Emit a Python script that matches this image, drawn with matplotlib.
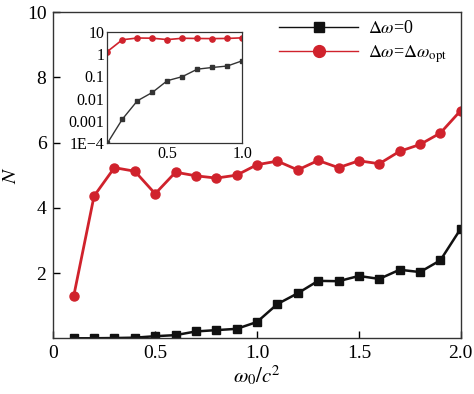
import numpy as np
import matplotlib as mpl
mpl.use('Agg')
import matplotlib.pyplot as plt
from matplotlib.ticker import FixedLocator, NullLocator
from matplotlib.lines import Line2D

plt.rcParams['font.family'] = 'Liberation Serif'
plt.rcParams['mathtext.fontset'] = 'stix'

# omega_0 / c^2
w0 = [0.1, 0.2, 0.3, 0.4, 0.5, 0.6, 0.7, 0.8, 0.9, 1.0,
      1.1, 1.2, 1.3, 1.4, 1.5, 1.6, 1.7, 1.8, 1.9, 2.0]
# N for delta omega = 0
n_zero = [0.0001, 0.0012, 0.008, 0.019, 0.064, 0.097, 0.21, 0.25, 0.29, 0.50,
          1.05, 1.38, 1.76, 1.75, 1.91, 1.82, 2.10, 2.03, 2.39, 3.36]
# N for delta omega = delta omega_opt
n_opt = [1.29, 4.36, 5.23, 5.12, 4.43, 5.09, 4.98, 4.91, 5.00, 5.32,
         5.43, 5.16, 5.45, 5.23, 5.44, 5.35, 5.73, 5.94, 6.29, 6.98]

inset_yticks = [1e-4, 1e-3, 1e-2, 0.1, 1, 10]
inset_ylabels = ['1E\u22124', '0.001', '0.01', '0.1', '1', '10']
labels = [r'$\Delta\omega$=0', r'$\Delta\omega$=$\Delta\omega_{\rm opt}$']

red = '#d0222c'
blk = '#111111'

fig = plt.figure(figsize=(4.74, 3.94), dpi=100, facecolor='white')
ax = fig.add_axes([0.1125, 0.1414, 0.8595, 0.8281])

ax.plot(w0, n_zero, '-s', color=blk, lw=1.8, ms=5.5)
ax.plot(w0, n_opt, '-o', color=red, lw=2.0, ms=6.5)

ax.set_xlim(0, 2.0)
ax.set_ylim(0, 10)
ax.set_xticks([0, 0.5, 1.0, 1.5, 2.0])
ax.set_xticklabels(['0', '0.5', '1.0', '1.5', '2.0'])
ax.set_yticks([2, 4, 6, 8, 10])
ax.tick_params(direction='in', length=5, width=1, labelsize=14, pad=5,
               top=False, right=False)
for sp in ax.spines.values():
    sp.set_linewidth(1.0)
    sp.set_color('#333333')
ax.set_xlabel(r'$\omega_0/c^2$', fontsize=15, labelpad=1)
ax.set_ylabel(r'$N$', fontsize=15, labelpad=4)

# legend handles drawn thinner than the data lines
handles = [Line2D([], [], color=blk, lw=1.0, marker='s', ms=7.5),
           Line2D([], [], color=red, lw=1.0, marker='o', ms=8.5)]
leg = ax.legend(handles, labels, loc='upper left',
                bbox_to_anchor=(0.554, 0.975), frameon=False,
                fontsize=13, handlelength=4.4, handletextpad=0.55,
                labelspacing=0.35, borderpad=0, borderaxespad=0)

# inset, log scale
ins = fig.add_axes([0.2264, 0.6363, 0.2848, 0.2832])
ins.plot(w0[:10], n_zero[:10], '-s', color='#333333', lw=1.0, ms=3.2)
ins.plot(w0[:10], n_opt[:10], '-o', color=red, lw=1.2, ms=3.8)
ins.set_yscale('log')
ins.set_xlim(0.1, 1.0)
ins.set_ylim(1e-4, 10)
ins.yaxis.set_major_locator(FixedLocator(inset_yticks))
ins.yaxis.set_minor_locator(NullLocator())
ins.set_yticklabels(inset_ylabels)
ins.set_xticks([0.5, 1.0])
ins.set_xticklabels(['0.5', '1.0'])
ins.tick_params(direction='in', length=0, labelsize=11.5, pad=2)
for sp in ins.spines.values():
    sp.set_linewidth(0.9)
    sp.set_color('#333333')

plt.savefig('out.png', dpi=100)
